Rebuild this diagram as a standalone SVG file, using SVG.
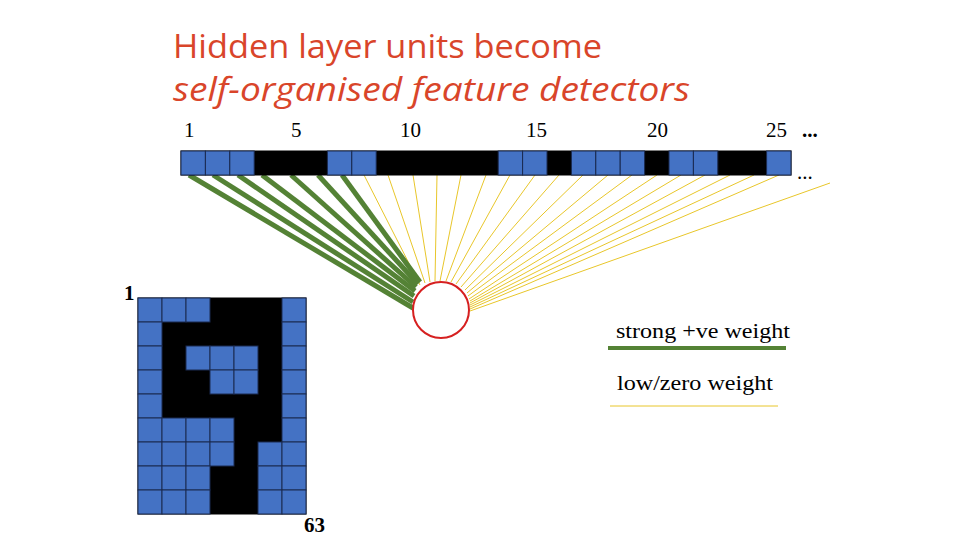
<svg xmlns="http://www.w3.org/2000/svg" width="960" height="540" viewBox="0 0 960 540">
<style>
.t{font-family:"Open Sans","Liberation Sans",sans-serif;fill:#d9452a;font-size:33px}
.s{font-family:"Liberation Serif",serif;font-size:21px;fill:#000}
.b{fill:#4472c4;stroke:#1a2a50;stroke-width:1}
.k{fill:#000;stroke:#000;stroke-width:1}
.g{stroke:#548235;stroke-width:5}
.y{stroke:#e8c62a;stroke-width:1}
</style>
<rect width="960" height="540" fill="#fff"/>
<g id="title">
<text class="t" x="173" y="58" textLength="429" lengthAdjust="spacingAndGlyphs">Hidden layer units become</text>
<text class="t" x="173" y="101" font-style="italic" textLength="517" lengthAdjust="spacingAndGlyphs">self-organised feature detectors</text>
</g>
<g id="connectors">
<line class="y" x1="364" y1="175" x2="420" y2="285"/>
<line class="y" x1="388" y1="175" x2="425" y2="283"/>
<line class="y" x1="413" y1="175" x2="430" y2="282"/>
<line class="y" x1="437" y1="175" x2="435" y2="281"/>
<line class="y" x1="461" y1="175" x2="440" y2="281"/>
<line class="y" x1="486" y1="175" x2="446" y2="281"/>
<line class="y" x1="510" y1="175" x2="451" y2="282"/>
<line class="y" x1="535" y1="175" x2="456" y2="284"/>
<line class="y" x1="559" y1="175" x2="461" y2="287"/>
<line class="y" x1="583" y1="175" x2="465" y2="290"/>
<line class="y" x1="608" y1="175" x2="467" y2="293"/>
<line class="y" x1="632" y1="175" x2="468" y2="296"/>
<line class="y" x1="657" y1="175" x2="469" y2="299"/>
<line class="y" x1="681" y1="175" x2="470" y2="301"/>
<line class="y" x1="705" y1="175" x2="470" y2="303"/>
<line class="y" x1="730" y1="175" x2="470" y2="305"/>
<line class="y" x1="754" y1="175" x2="470" y2="307"/>
<line class="y" x1="779" y1="175" x2="470" y2="309"/>
<line class="y" x1="830" y1="183" x2="470" y2="311"/>
<line class="g" x1="189" y1="175" x2="413" y2="308"/>
<line class="g" x1="213" y1="175" x2="413" y2="302"/>
<line class="g" x1="238" y1="175" x2="414" y2="296"/>
<line class="g" x1="262" y1="175" x2="415" y2="291"/>
<line class="g" x1="291" y1="175" x2="416" y2="287"/>
<line class="g" x1="318" y1="175" x2="418" y2="284"/>
<line class="g" x1="342" y1="175" x2="420" y2="282"/>
</g>
<g id="hidden-unit">
<circle cx="441" cy="310" r="28" fill="#fff" stroke="#d62020" stroke-width="2"/>
</g>
<g id="input-strip">
<rect class="k" x="181" y="151" width="610" height="24"/>
<rect class="b" x="181" y="151" width="24.4" height="24"/>
<rect class="b" x="205.4" y="151" width="24.4" height="24"/>
<rect class="b" x="229.8" y="151" width="24.4" height="24"/>
<rect class="b" x="327.4" y="151" width="24.4" height="24"/>
<rect class="b" x="351.8" y="151" width="24.4" height="24"/>
<rect class="b" x="498.2" y="151" width="24.4" height="24"/>
<rect class="b" x="522.6" y="151" width="24.4" height="24"/>
<rect class="b" x="571.4" y="151" width="24.4" height="24"/>
<rect class="b" x="595.8" y="151" width="24.4" height="24"/>
<rect class="b" x="620.2" y="151" width="24.4" height="24"/>
<rect class="b" x="669" y="151" width="24.4" height="24"/>
<rect class="b" x="693.4" y="151" width="24.4" height="24"/>
<rect class="b" x="766.6" y="151" width="24.4" height="24"/>
<text class="s" x="184" y="137">1</text>
<text class="s" x="291" y="137">5</text>
<text class="s" x="400" y="137">10</text>
<text class="s" x="526" y="137">15</text>
<text class="s" x="647" y="137">20</text>
<text class="s" x="766" y="137">25</text>
<text class="s" x="802" y="137" font-weight="bold">...</text>
<text class="s" x="797" y="179">...</text>
</g>
<g id="image-grid">
<rect class="k" x="138" y="298" width="168" height="216"/>
<g fill="#4472c4" stroke="#1a2a50">
<rect x="138" y="298" width="24" height="24"/><rect x="162" y="298" width="24" height="24"/><rect x="186" y="298" width="24" height="24"/><rect x="282" y="298" width="24" height="24"/>
<rect x="138" y="322" width="24" height="24"/><rect x="282" y="322" width="24" height="24"/>
<rect x="138" y="346" width="24" height="24"/><rect x="186" y="346" width="24" height="24"/><rect x="210" y="346" width="24" height="24"/><rect x="234" y="346" width="24" height="24"/><rect x="282" y="346" width="24" height="24"/>
<rect x="138" y="370" width="24" height="24"/><rect x="210" y="370" width="24" height="24"/><rect x="234" y="370" width="24" height="24"/><rect x="282" y="370" width="24" height="24"/>
<rect x="138" y="394" width="24" height="24"/><rect x="282" y="394" width="24" height="24"/>
<rect x="138" y="418" width="24" height="24"/><rect x="162" y="418" width="24" height="24"/><rect x="186" y="418" width="24" height="24"/><rect x="210" y="418" width="24" height="24"/><rect x="282" y="418" width="24" height="24"/>
<rect x="138" y="442" width="24" height="24"/><rect x="162" y="442" width="24" height="24"/><rect x="186" y="442" width="24" height="24"/><rect x="210" y="442" width="24" height="24"/><rect x="258" y="442" width="24" height="24"/><rect x="282" y="442" width="24" height="24"/>
<rect x="138" y="466" width="24" height="24"/><rect x="162" y="466" width="24" height="24"/><rect x="186" y="466" width="24" height="24"/><rect x="258" y="466" width="24" height="24"/><rect x="282" y="466" width="24" height="24"/>
<rect x="138" y="490" width="24" height="24"/><rect x="162" y="490" width="24" height="24"/><rect x="186" y="490" width="24" height="24"/><rect x="258" y="490" width="24" height="24"/><rect x="282" y="490" width="24" height="24"/>
</g>
<text class="s" x="124" y="300" font-weight="bold">1</text>
<text class="s" x="304" y="532" font-weight="bold">63</text>
</g>
<g id="legend">
<text class="s" x="616" y="338" textLength="174" lengthAdjust="spacingAndGlyphs">strong +ve weight</text>
<line x1="608" y1="348" x2="786" y2="348" stroke="#548235" stroke-width="4"/>
<text class="s" x="617" y="390" textLength="156" lengthAdjust="spacingAndGlyphs">low/zero weight</text>
<line x1="610" y1="406" x2="778" y2="406" stroke="#e8c62a" stroke-width="1"/>
</g>
</svg>
